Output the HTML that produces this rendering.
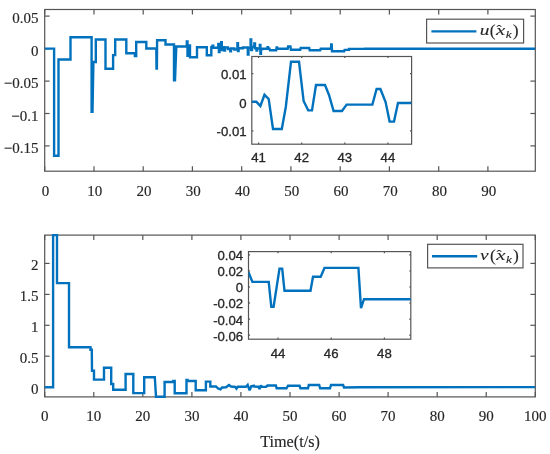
<!DOCTYPE html>
<html><head><meta charset="utf-8"><style>
html,body{margin:0;padding:0;background:#fff;}
body{width:550px;height:454px;overflow:hidden;}
svg{display:block;filter:blur(0.3px);}
.ser{font-family:"Liberation Serif","Times New Roman",serif;fill:#262626;stroke:#262626;stroke-width:0.15px;}
.san{font-family:"Liberation Sans",Arial,sans-serif;fill:#262626;stroke:#262626;stroke-width:0.3px;}
</style></head><body>
<svg width="550" height="454" viewBox="0 0 550 454">
<rect width="550" height="454" fill="#fff"/>
<rect x="44.7" y="9.5" width="490.59999999999997" height="161.7" fill="#fff" stroke="#555555" stroke-width="1.2"/>
<g stroke="#555555" stroke-width="1.2"><line x1="44.7" y1="171.2" x2="44.7" y2="166.29999999999998"/><line x1="44.7" y1="9.5" x2="44.7" y2="14.4"/><line x1="94.0" y1="171.2" x2="94.0" y2="166.29999999999998"/><line x1="94.0" y1="9.5" x2="94.0" y2="14.4"/><line x1="143.2" y1="171.2" x2="143.2" y2="166.29999999999998"/><line x1="143.2" y1="9.5" x2="143.2" y2="14.4"/><line x1="192.4" y1="171.2" x2="192.4" y2="166.29999999999998"/><line x1="192.4" y1="9.5" x2="192.4" y2="14.4"/><line x1="241.7" y1="171.2" x2="241.7" y2="166.29999999999998"/><line x1="241.7" y1="9.5" x2="241.7" y2="14.4"/><line x1="290.9" y1="171.2" x2="290.9" y2="166.29999999999998"/><line x1="290.9" y1="9.5" x2="290.9" y2="14.4"/><line x1="340.2" y1="171.2" x2="340.2" y2="166.29999999999998"/><line x1="340.2" y1="9.5" x2="340.2" y2="14.4"/><line x1="389.4" y1="171.2" x2="389.4" y2="166.29999999999998"/><line x1="389.4" y1="9.5" x2="389.4" y2="14.4"/><line x1="438.7" y1="171.2" x2="438.7" y2="166.29999999999998"/><line x1="438.7" y1="9.5" x2="438.7" y2="14.4"/><line x1="487.9" y1="171.2" x2="487.9" y2="166.29999999999998"/><line x1="487.9" y1="9.5" x2="487.9" y2="14.4"/><line x1="44.7" y1="16.1" x2="49.6" y2="16.1"/><line x1="535.3" y1="16.1" x2="530.4" y2="16.1"/><line x1="44.7" y1="48.6" x2="49.6" y2="48.6"/><line x1="535.3" y1="48.6" x2="530.4" y2="48.6"/><line x1="44.7" y1="81.1" x2="49.6" y2="81.1"/><line x1="535.3" y1="81.1" x2="530.4" y2="81.1"/><line x1="44.7" y1="113.5" x2="49.6" y2="113.5"/><line x1="535.3" y1="113.5" x2="530.4" y2="113.5"/><line x1="44.7" y1="145.9" x2="49.6" y2="145.9"/><line x1="535.3" y1="145.9" x2="530.4" y2="145.9"/></g>
<clipPath id="c1"><rect x="44.7" y="9.5" width="490.59999999999997" height="161.7"/></clipPath>
<polyline clip-path="url(#c1)" points="45.0,48.6 54.1,48.6 54.1,155.8 58.5,155.8 58.5,59.5 70.5,59.5 70.5,37.3 91.6,37.3 91.6,111.8 92.5,111.8 93.4,62.0 95.8,62.0 95.8,39.5 105.5,39.5 105.5,68.8 113.1,68.8 113.1,55.1 115.2,55.1 115.2,39.5 126.3,39.5 126.3,53.3 134.9,53.3 134.9,56.0 136.2,56.0 136.2,42.0 146.3,42.0 146.3,48.5 156.3,48.5 156.5,68.5 156.9,68.5 157.1,40.2 165.5,40.2 165.5,44.5 174.0,44.5 174.0,80.2 175.0,80.2 176.3,46.5 186.8,46.5 186.8,41.5 187.5,41.5 187.5,55.9 188.8,55.9 188.8,45.5 190.0,45.5 190.0,57.2 197.0,57.2 197.0,47.3 206.8,47.3 206.8,55.3 211.3,55.3 211.3,47.3 212.5,47.3 212.5,45.6 213.2,45.6 213.2,47.8 218.3,47.8 218.3,44.0 218.9,44.0 218.9,52.0 219.5,52.0 219.5,48.0 221.2,48.0 221.2,42.1 221.8,42.1 221.8,50.0 222.4,50.0 222.4,47.2 224.3,47.2 224.3,50.5 225.0,50.5 225.0,47.5 228.0,47.5 228.0,49.0 230.3,49.0 230.3,51.4 231.0,51.4 231.0,48.5 234.3,48.5 234.3,49.5 237.4,49.5 237.4,43.2 238.0,43.2 238.0,51.0 238.6,51.0 238.6,48.3 243.0,48.3 243.0,47.5 247.8,47.5 247.8,54.6 248.5,54.6 248.5,48.0 250.6,48.0 250.6,39.4 251.2,39.4 251.2,50.0 252.0,50.0 252.0,47.0 254.3,47.0 254.3,43.5 255.0,43.5 255.0,48.3 256.5,48.3 256.5,50.5 257.2,50.5 257.2,48.5 259.8,48.5 259.8,45.0 260.4,45.0 260.4,53.8 261.0,53.8 261.0,49.0 262.4,49.0 262.4,48.7 267.3,48.7 267.5,47.2 268.2,47.2 268.5,48.7 269.5,48.7 269.9,50.2 276.2,50.2 276.6,47.5 277.3,47.5 277.8,48.7 287.7,48.7 288.1,46.5 290.4,46.5 290.9,49.8 300.2,49.8 300.7,48.0 309.2,48.0 309.7,50.3 320.2,50.3 320.7,48.7 331.0,48.7 331.2,44.4 331.7,44.4 332.0,51.2 344.2,51.2 344.6,49.9 349.0,49.9 349.0,48.9 363.6,48.9 364.5,48.7 535.3,48.7" fill="none" stroke="#0072BD" stroke-width="2.4" stroke-linejoin="miter" stroke-miterlimit="2"/>
<text class="ser" x="45.5" y="196.2" font-size="15" text-anchor="middle">0</text>
<text class="ser" x="94.8" y="196.2" font-size="15" text-anchor="middle">10</text>
<text class="ser" x="144.0" y="196.2" font-size="15" text-anchor="middle">20</text>
<text class="ser" x="193.2" y="196.2" font-size="15" text-anchor="middle">30</text>
<text class="ser" x="242.5" y="196.2" font-size="15" text-anchor="middle">40</text>
<text class="ser" x="291.8" y="196.2" font-size="15" text-anchor="middle">50</text>
<text class="ser" x="341.0" y="196.2" font-size="15" text-anchor="middle">60</text>
<text class="ser" x="390.2" y="196.2" font-size="15" text-anchor="middle">70</text>
<text class="ser" x="439.5" y="196.2" font-size="15" text-anchor="middle">80</text>
<text class="ser" x="488.8" y="196.2" font-size="15" text-anchor="middle">90</text>
<text class="ser" x="38.4" y="23.1" font-size="15" text-anchor="end">0.05</text>
<text class="ser" x="38.4" y="55.6" font-size="15" text-anchor="end">0</text>
<text class="ser" x="38.4" y="88.1" font-size="15" text-anchor="end">−0.05</text>
<text class="ser" x="38.4" y="120.5" font-size="15" text-anchor="end">−0.1</text>
<text class="ser" x="38.4" y="152.9" font-size="15" text-anchor="end">−0.15</text>
<rect x="426.6" y="19.2" width="97" height="23.8" fill="#fff" stroke="#555555" stroke-width="1.2"/>
<line x1="431.4" y1="31.4" x2="476.4" y2="31.4" stroke="#0072BD" stroke-width="2.4"/>
<g class="ser" style="stroke-width:0.1px"><text transform="translate(479.80,34.80) scale(1.25,1)" font-size="15.5" font-style="italic">u</text><text transform="translate(489.80,35.70) scale(1,1)" font-size="17.5">(</text><text transform="translate(496.00,34.80) scale(1.35,1)" font-size="15.5" font-style="italic">x</text><text transform="translate(496.40,34.10) scale(1.2,1)" font-size="13">ˆ</text><text transform="translate(505.70,37.60) scale(1.2,1)" font-size="11" font-style="italic">k</text><text transform="translate(512.70,35.70) scale(1,1)" font-size="17.5">)</text></g>
<rect x="251.8" y="56.5" width="159.8" height="87.69999999999999" fill="#fff" stroke="#555555" stroke-width="1.2"/>
<g stroke="#555555" stroke-width="1.2"><line x1="258.6" y1="144.2" x2="258.6" y2="142.6"/><line x1="258.6" y1="56.5" x2="258.6" y2="58.1"/><line x1="301.7" y1="144.2" x2="301.7" y2="142.6"/><line x1="301.7" y1="56.5" x2="301.7" y2="58.1"/><line x1="344.8" y1="144.2" x2="344.8" y2="142.6"/><line x1="344.8" y1="56.5" x2="344.8" y2="58.1"/><line x1="387.9" y1="144.2" x2="387.9" y2="142.6"/><line x1="387.9" y1="56.5" x2="387.9" y2="58.1"/><line x1="251.8" y1="130.9" x2="253.4" y2="130.9"/><line x1="411.6" y1="130.9" x2="410.0" y2="130.9"/><line x1="251.8" y1="102.3" x2="253.4" y2="102.3"/><line x1="411.6" y1="102.3" x2="410.0" y2="102.3"/><line x1="251.8" y1="73.6" x2="253.4" y2="73.6"/><line x1="411.6" y1="73.6" x2="410.0" y2="73.6"/></g>
<clipPath id="c2"><rect x="251.8" y="56.5" width="159.8" height="87.69999999999999"/></clipPath>
<polyline clip-path="url(#c2)" points="251.8,101.8 256.4,101.8 260.4,106.0 264.5,94.8 268.7,99.0 273.0,129.0 281.8,129.0 285.8,107.0 291.0,61.8 299.0,61.8 303.6,101.0 308.2,110.4 312.0,110.4 316.0,85.0 325.0,85.0 329.0,95.0 333.6,111.0 342.0,111.0 346.6,104.6 372.4,104.6 376.6,89.0 380.4,89.0 385.6,102.0 389.6,121.6 394.0,121.6 398.0,103.0 411.6,103.0" fill="none" stroke="#0072BD" stroke-width="2.4" stroke-linejoin="miter" stroke-miterlimit="3"/>
<text class="san" x="258.6" y="162.2" font-size="13.2" text-anchor="middle">41</text>
<text class="san" x="301.7" y="162.2" font-size="13.2" text-anchor="middle">42</text>
<text class="san" x="344.8" y="162.2" font-size="13.2" text-anchor="middle">43</text>
<text class="san" x="387.9" y="162.2" font-size="13.2" text-anchor="middle">44</text>
<text class="san" x="246.6" y="79.1" font-size="13.2" text-anchor="end">0.01</text>
<text class="san" x="246.6" y="107.8" font-size="13.2" text-anchor="end">0</text>
<text class="san" x="246.6" y="136.4" font-size="13.2" text-anchor="end">-0.01</text>
<rect x="44.7" y="235.1" width="490.59999999999997" height="161.79999999999998" fill="#fff" stroke="#555555" stroke-width="1.2"/>
<g stroke="#555555" stroke-width="1.2"><line x1="44.7" y1="396.9" x2="44.7" y2="392.0"/><line x1="44.7" y1="235.1" x2="44.7" y2="240.0"/><line x1="93.8" y1="396.9" x2="93.8" y2="392.0"/><line x1="93.8" y1="235.1" x2="93.8" y2="240.0"/><line x1="142.8" y1="396.9" x2="142.8" y2="392.0"/><line x1="142.8" y1="235.1" x2="142.8" y2="240.0"/><line x1="191.9" y1="396.9" x2="191.9" y2="392.0"/><line x1="191.9" y1="235.1" x2="191.9" y2="240.0"/><line x1="240.9" y1="396.9" x2="240.9" y2="392.0"/><line x1="240.9" y1="235.1" x2="240.9" y2="240.0"/><line x1="290.0" y1="396.9" x2="290.0" y2="392.0"/><line x1="290.0" y1="235.1" x2="290.0" y2="240.0"/><line x1="339.1" y1="396.9" x2="339.1" y2="392.0"/><line x1="339.1" y1="235.1" x2="339.1" y2="240.0"/><line x1="388.1" y1="396.9" x2="388.1" y2="392.0"/><line x1="388.1" y1="235.1" x2="388.1" y2="240.0"/><line x1="437.2" y1="396.9" x2="437.2" y2="392.0"/><line x1="437.2" y1="235.1" x2="437.2" y2="240.0"/><line x1="486.2" y1="396.9" x2="486.2" y2="392.0"/><line x1="486.2" y1="235.1" x2="486.2" y2="240.0"/><line x1="535.3" y1="396.9" x2="535.3" y2="392.0"/><line x1="535.3" y1="235.1" x2="535.3" y2="240.0"/><line x1="44.7" y1="387.2" x2="49.6" y2="387.2"/><line x1="535.3" y1="387.2" x2="530.4" y2="387.2"/><line x1="44.7" y1="356.2" x2="49.6" y2="356.2"/><line x1="535.3" y1="356.2" x2="530.4" y2="356.2"/><line x1="44.7" y1="325.3" x2="49.6" y2="325.3"/><line x1="535.3" y1="325.3" x2="530.4" y2="325.3"/><line x1="44.7" y1="294.4" x2="49.6" y2="294.4"/><line x1="535.3" y1="294.4" x2="530.4" y2="294.4"/><line x1="44.7" y1="263.4" x2="49.6" y2="263.4"/><line x1="535.3" y1="263.4" x2="530.4" y2="263.4"/></g>
<clipPath id="c3"><rect x="44.7" y="233.79999999999998" width="490.59999999999997" height="164.39999999999998"/></clipPath>
<polyline clip-path="url(#c3)" points="44.7,387.2 53.1,387.2 53.1,235.1 57.0,235.1 57.0,283.1 69.0,283.1 69.0,347.3 90.5,347.3 90.5,349.7 91.8,349.7 92.0,370.8 94.0,370.8 94.0,379.6 104.0,379.6 104.0,367.8 111.2,367.8 111.2,384.0 113.2,384.0 113.2,389.8 125.6,389.8 125.6,374.0 133.3,374.0 133.3,393.1 144.2,393.1 144.2,377.3 154.8,377.3 156.0,396.7 164.6,396.7 164.6,382.0 173.3,382.0 173.3,381.0 174.7,381.0 174.7,393.3 186.5,393.3 186.5,380.0 187.5,380.0 187.5,381.0 195.7,381.0 195.7,390.3 205.9,390.3 205.9,381.6 210.3,381.6 210.3,386.5 216.0,386.5 218.0,388.5 220.5,389.4 222.0,387.5 226.0,387.3 229.0,385.0 231.0,386.5 235.5,387.0 236.5,388.6 238.0,386.7 246.0,386.7 247.7,384.8 249.6,390.3 251.3,386.3 253.0,386.3 253.7,385.0 254.5,386.5 258.5,386.7 259.5,388.9 261.0,385.5 262.0,386.9 266.0,386.9 267.5,385.5 275.9,385.5 276.6,388.3 286.5,388.3 288.0,385.8 299.6,385.8 300.4,388.3 308.0,388.3 308.8,385.0 319.2,385.0 320.1,388.3 330.0,388.3 331.0,385.0 343.1,385.0 344.0,387.5 360.0,387.3 535.3,387.1" fill="none" stroke="#0072BD" stroke-width="2.4" stroke-linejoin="miter" stroke-miterlimit="2"/>
<text class="ser" x="44.7" y="421.3" font-size="15" text-anchor="middle">0</text>
<text class="ser" x="93.8" y="421.3" font-size="15" text-anchor="middle">10</text>
<text class="ser" x="142.8" y="421.3" font-size="15" text-anchor="middle">20</text>
<text class="ser" x="191.9" y="421.3" font-size="15" text-anchor="middle">30</text>
<text class="ser" x="240.9" y="421.3" font-size="15" text-anchor="middle">40</text>
<text class="ser" x="290.0" y="421.3" font-size="15" text-anchor="middle">50</text>
<text class="ser" x="339.1" y="421.3" font-size="15" text-anchor="middle">60</text>
<text class="ser" x="388.1" y="421.3" font-size="15" text-anchor="middle">70</text>
<text class="ser" x="437.2" y="421.3" font-size="15" text-anchor="middle">80</text>
<text class="ser" x="486.2" y="421.3" font-size="15" text-anchor="middle">90</text>
<text class="ser" x="535.3" y="421.3" font-size="15" text-anchor="middle">100</text>
<text class="ser" x="38.4" y="394.2" font-size="15" text-anchor="end">0</text>
<text class="ser" x="38.4" y="363.2" font-size="15" text-anchor="end">0.5</text>
<text class="ser" x="38.4" y="332.3" font-size="15" text-anchor="end">1</text>
<text class="ser" x="38.4" y="301.4" font-size="15" text-anchor="end">1.5</text>
<text class="ser" x="38.4" y="270.4" font-size="15" text-anchor="end">2</text>
<rect x="427.6" y="244.3" width="95.4" height="23.6" fill="#fff" stroke="#555555" stroke-width="1.2"/>
<line x1="432" y1="256.2" x2="477.2" y2="256.2" stroke="#0072BD" stroke-width="2.4"/>
<g class="ser" style="stroke-width:0.1px"><text transform="translate(480.00,260.00) scale(1.25,1)" font-size="15.5" font-style="italic">v</text><text transform="translate(490.00,260.90) scale(1,1)" font-size="17.5">(</text><text transform="translate(496.20,260.00) scale(1.35,1)" font-size="15.5" font-style="italic">x</text><text transform="translate(496.60,259.30) scale(1.2,1)" font-size="13">ˆ</text><text transform="translate(505.90,262.80) scale(1.2,1)" font-size="11" font-style="italic">k</text><text transform="translate(512.90,260.90) scale(1,1)" font-size="17.5">)</text></g>
<rect x="248.5" y="251.6" width="162.3" height="87.6" fill="#fff" stroke="#555555" stroke-width="1.2"/>
<g stroke="#555555" stroke-width="1.2"><line x1="278.0" y1="339.2" x2="278.0" y2="337.59999999999997"/><line x1="278.0" y1="251.6" x2="278.0" y2="253.2"/><line x1="331.2" y1="339.2" x2="331.2" y2="337.59999999999997"/><line x1="331.2" y1="251.6" x2="331.2" y2="253.2"/><line x1="384.4" y1="339.2" x2="384.4" y2="337.59999999999997"/><line x1="384.4" y1="251.6" x2="384.4" y2="253.2"/><line x1="248.5" y1="335.1" x2="250.1" y2="335.1"/><line x1="410.8" y1="335.1" x2="409.2" y2="335.1"/><line x1="248.5" y1="319.1" x2="250.1" y2="319.1"/><line x1="410.8" y1="319.1" x2="409.2" y2="319.1"/><line x1="248.5" y1="303.0" x2="250.1" y2="303.0"/><line x1="410.8" y1="303.0" x2="409.2" y2="303.0"/><line x1="248.5" y1="287.0" x2="250.1" y2="287.0"/><line x1="410.8" y1="287.0" x2="409.2" y2="287.0"/><line x1="248.5" y1="271.0" x2="250.1" y2="271.0"/><line x1="410.8" y1="271.0" x2="409.2" y2="271.0"/><line x1="248.5" y1="254.9" x2="250.1" y2="254.9"/><line x1="410.8" y1="254.9" x2="409.2" y2="254.9"/></g>
<clipPath id="c4"><rect x="248.5" y="251.6" width="162.3" height="87.6"/></clipPath>
<polyline clip-path="url(#c4)" points="248.5,272.3 252.4,281.9 268.7,281.9 271.3,306.8 273.6,306.8 279.5,268.6 282.2,268.6 284.5,290.8 310.5,290.8 313.0,276.8 320.7,276.8 324.5,267.9 358.4,267.9 361.0,308.1 364.0,299.2 411.0,299.2" fill="none" stroke="#0072BD" stroke-width="2.4" stroke-linejoin="miter" stroke-miterlimit="3"/>
<text class="san" x="278.0" y="357.5" font-size="13.2" text-anchor="middle">44</text>
<text class="san" x="331.2" y="357.5" font-size="13.2" text-anchor="middle">46</text>
<text class="san" x="384.4" y="357.5" font-size="13.2" text-anchor="middle">48</text>
<text class="san" x="243.2" y="260.3" font-size="13.2" text-anchor="end">0.04</text>
<text class="san" x="243.2" y="276.4" font-size="13.2" text-anchor="end">0.02</text>
<text class="san" x="243.2" y="292.4" font-size="13.2" text-anchor="end">0</text>
<text class="san" x="243.2" y="308.4" font-size="13.2" text-anchor="end">-0.02</text>
<text class="san" x="243.2" y="324.5" font-size="13.2" text-anchor="end">-0.04</text>
<text class="san" x="243.2" y="340.5" font-size="13.2" text-anchor="end">-0.06</text>
<text class="ser" x="290" y="446.6" font-size="16.2" text-anchor="middle">Time(t/s)</text>
</svg></body></html>
